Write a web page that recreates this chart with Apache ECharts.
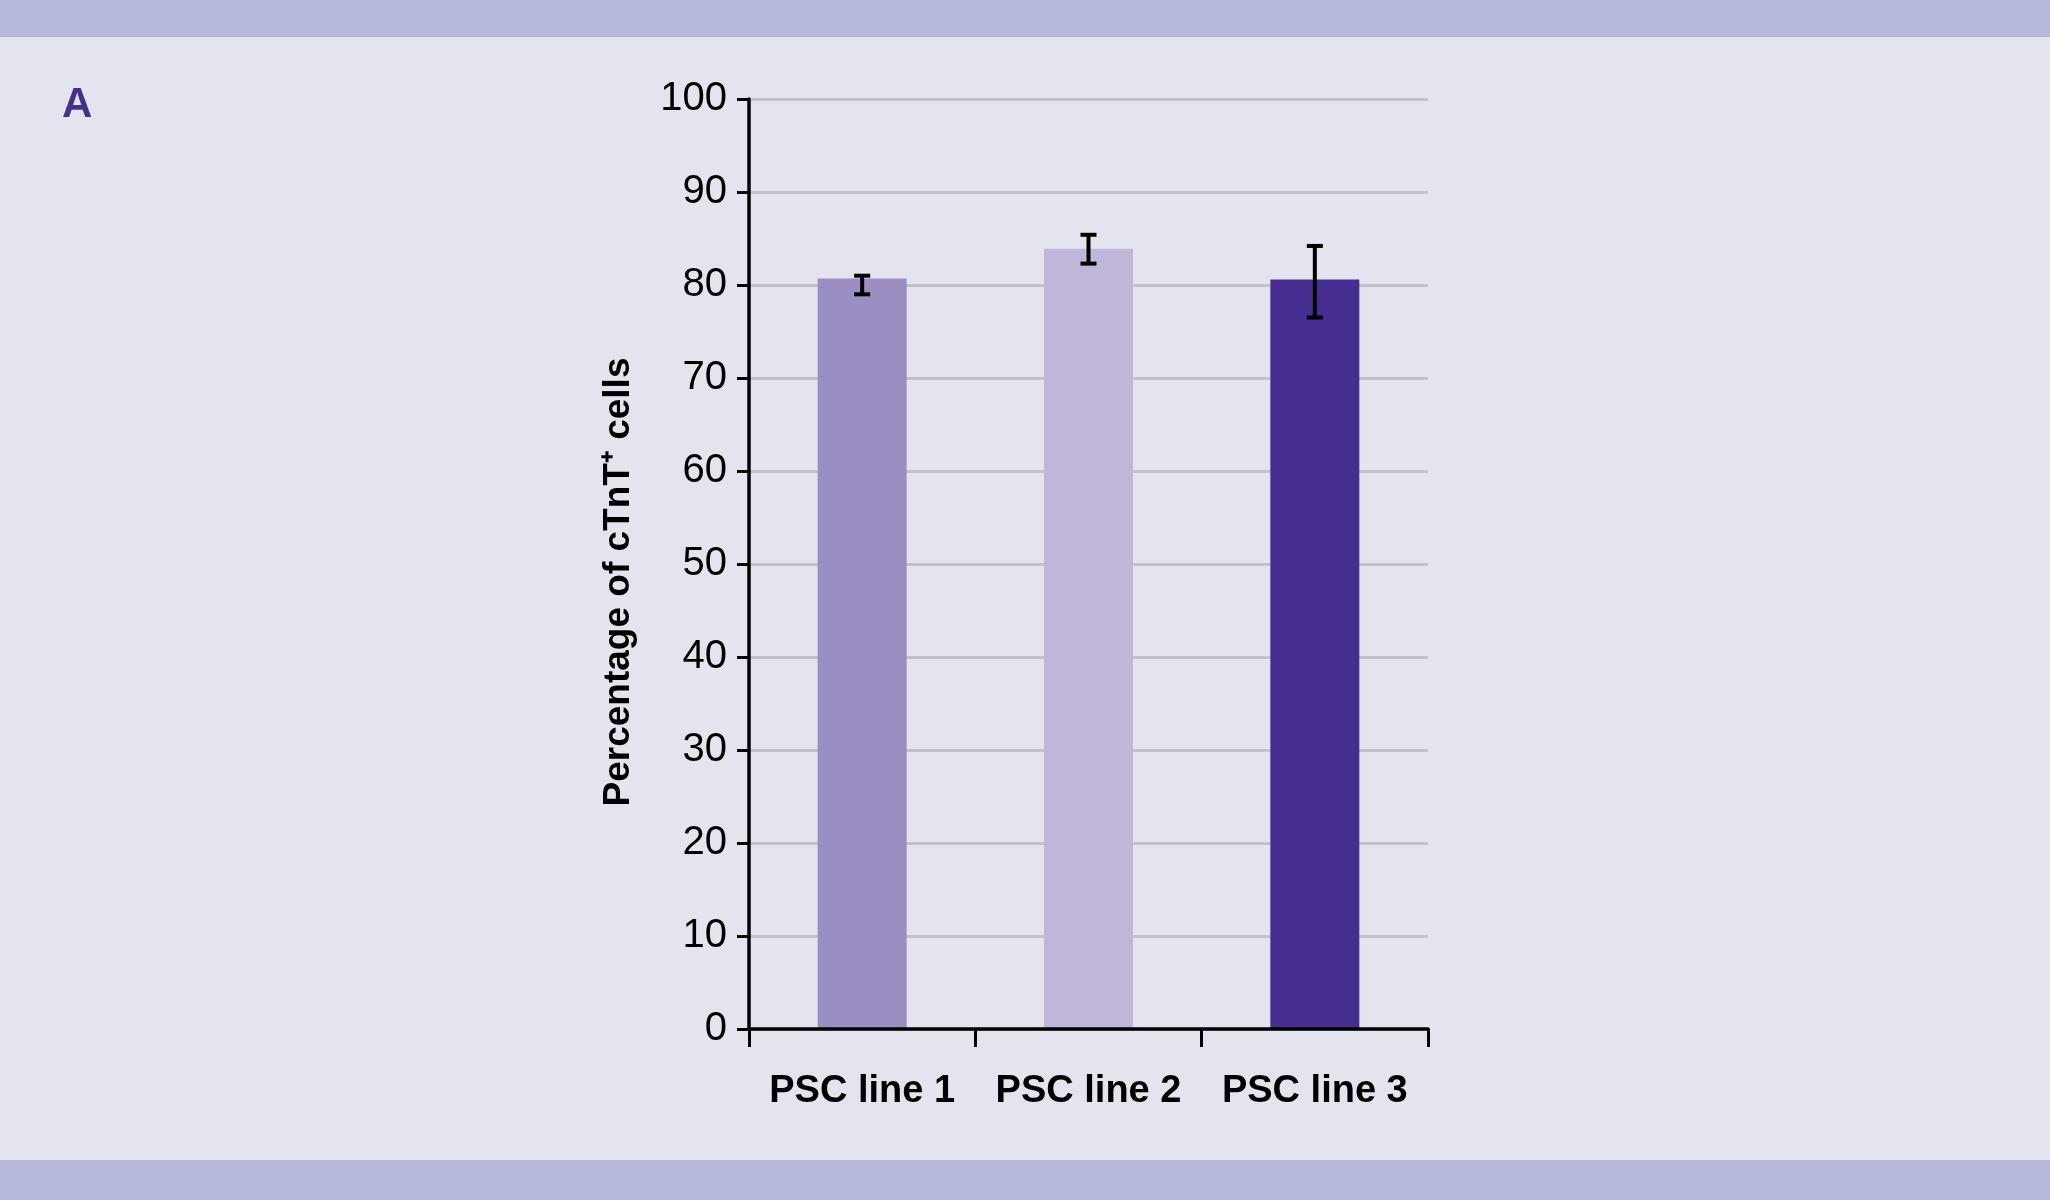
<!DOCTYPE html>
<html>
<head>
<meta charset="utf-8">
<script src="https://cdn.jsdelivr.net/npm/echarts@6/dist/echarts.min.js"></script>
<style>
  html, body { margin: 0; padding: 0; background: #e4e4ef; }
  #chart { width: 2050px; height: 1200px; }
</style>
</head>
<body>
<div id="chart"></div>
<script>
var categories = ['PSC line 1', 'PSC line 2', 'PSC line 3'];
var values = [80.7, 83.9, 80.6];
var errLow = [79.0, 82.3, 76.5];
var errHigh = [81.0, 85.4, 84.2];
var barColors = ['#9b8ec2', '#c0b6da', '#452e8f'];
var yTicks = [0, 10, 20, 30, 40, 50, 60, 70, 80, 90, 100];

var FONT = '"Liberation Sans", Arial, sans-serif';

var chart = echarts.init(document.getElementById('chart'), null, { renderer: 'canvas' });

var errData = categories.map(function (c, i) { return [i, errLow[i], errHigh[i]]; });

var option = {
  backgroundColor: '#e4e4ef',
  animation: false,
  graphic: [
    { type: 'rect', left: 0, top: 0, shape: { width: 2050, height: 37 }, style: { fill: '#b7b9dc' }, z: 0 },
    { type: 'rect', left: 0, top: 1160, shape: { width: 2050, height: 40 }, style: { fill: '#b7b9dc' }, z: 0 },
    { type: 'text', left: 62, top: 84, style: { text: 'A', fill: '#45308f', font: 'bold 42px "Liberation Sans", Arial, sans-serif' } }
  ],
  grid: { left: 749, right: 622, top: 99, bottom: 171, containLabel: false },
  xAxis: {
    type: 'category',
    data: categories,
    boundaryGap: true,
    axisLine: { show: true, lineStyle: { color: '#000', width: 3.5 } },
    axisTick: { show: true, interval: 0, length: 18, lineStyle: { color: '#000', width: 3 } },
    axisLabel: { interval: 0, margin: 44, color: '#000', fontSize: 38, fontWeight: 'bold', fontFamily: FONT },
    splitLine: { show: false },
    z: 5
  },
  yAxis: {
    type: 'value',
    min: 0,
    max: 100,
    interval: 10,
    name: 'Percentage of cTnT\u207A cells',
    nameLocation: 'middle',
    nameGap: 112,
    nameRotate: 90,
    nameTextStyle: { color: '#000', fontSize: 37, fontWeight: 'bold', fontFamily: FONT, padding: [0, 0, 0, -36] },
    axisLine: { show: true, lineStyle: { color: '#000', width: 3.5 } },
    axisTick: { show: true, length: 12, lineStyle: { color: '#000', width: 3 } },
    axisLabel: {
      margin: 22, color: '#000', fontSize: 40, fontFamily: FONT,
      formatter: function (v) { return yTicks.indexOf(v) >= 0 ? String(v) : ''; }
    },
    splitLine: { show: true, lineStyle: { color: '#c2c2c8', width: 3 } },
    z: 0
  },
  series: [
    {
      type: 'bar',
      barWidth: 89,
      data: values.map(function (v, i) { return { value: v, itemStyle: { color: barColors[i] } }; }),
      z: 3
    },
    {
      type: 'custom',
      data: errData,
      z: 10,
      renderItem: function (params, api) {
        var x = api.value(0);
        var lo = api.coord([x, api.value(1)]);
        var hi = api.coord([x, api.value(2)]);
        var cap = 8;
        var st = { stroke: '#000', lineWidth: 4 };
        return {
          type: 'group',
          children: [
            { type: 'line', shape: { x1: lo[0], y1: lo[1], x2: hi[0], y2: hi[1] }, style: st },
            { type: 'line', shape: { x1: lo[0] - cap, y1: lo[1], x2: lo[0] + cap, y2: lo[1] }, style: st },
            { type: 'line', shape: { x1: hi[0] - cap, y1: hi[1], x2: hi[0] + cap, y2: hi[1] }, style: st }
          ]
        };
      }
    }
  ]
};
chart.setOption(option);
</script>
</body>
</html>
